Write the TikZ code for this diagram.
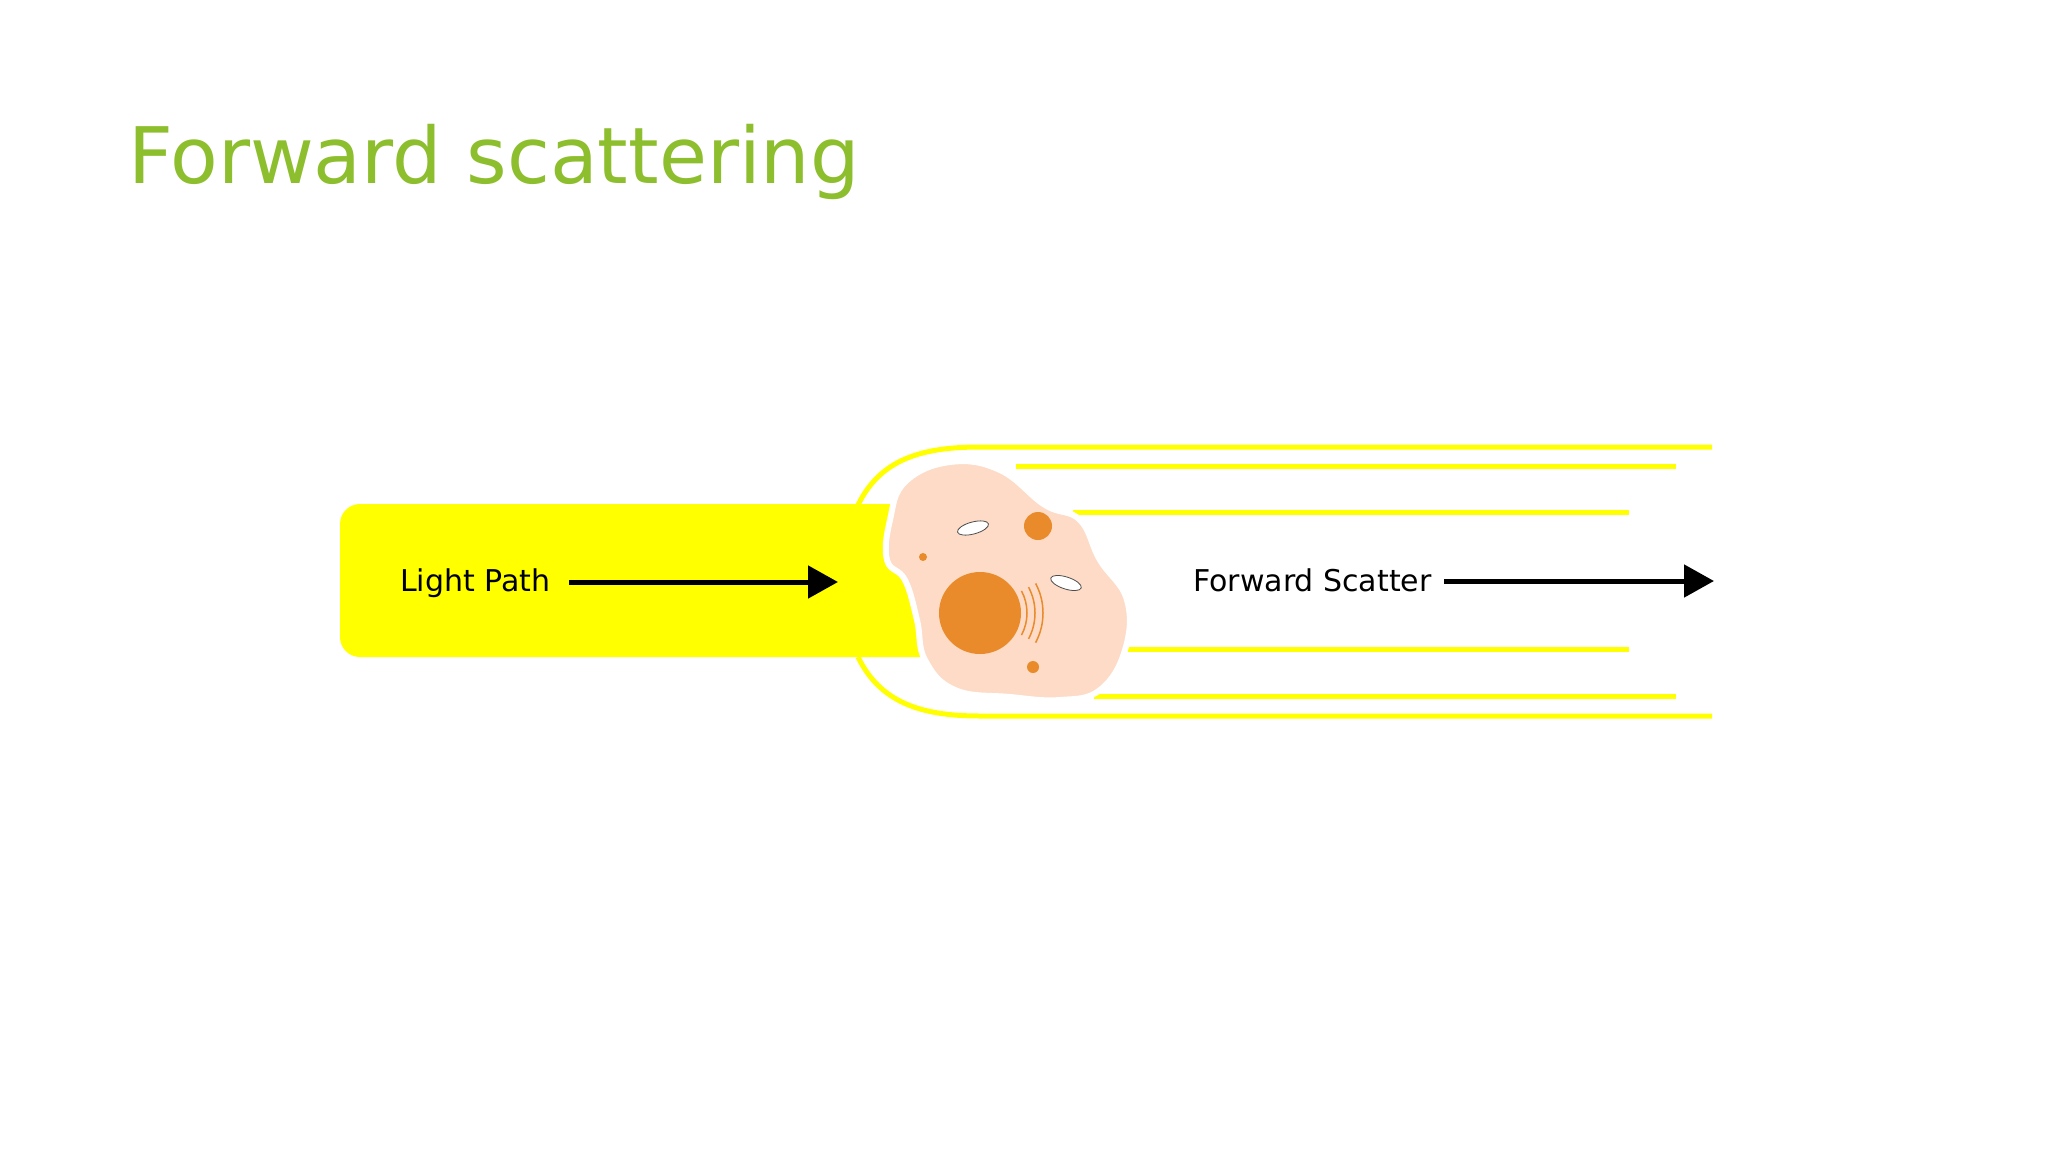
\documentclass[tikz,border=0pt]{standalone}
\usepackage{fontspec}
\usetikzlibrary{arrows.meta}
\setmainfont{DejaVu Sans}
\newfontfamily\titlefont{DejaVu Sans}
\definecolor{ttl}{RGB}{141,190,46}
\definecolor{lyel}{RGB}{255,255,0}
\definecolor{cellc}{RGB}{253,219,198}
\definecolor{orgc}{RGB}{233,139,42}
\begin{document}
\begin{tikzpicture}[x=1pt,y=-1pt,
  beam/.style={lyel,line width=5pt},
  arr/.style={line width=5pt,-{Triangle[length=30pt,width=32pt]}},
  lbl/.style={font=\fontsize{30}{36}\selectfont,inner sep=0pt}]
\useasboundingbox (0,0) rectangle (2048,1152);
\node[anchor=base west,inner sep=0pt,text=ttl,font=\titlefont\fontsize{78}{90}\selectfont] (title) at (128,183) {Forward scattering};
% beams
\draw[beam] (858,505) .. controls (880,460) and (920,447) .. (980,447) -- (1712,447);
\draw[beam] (858,657) .. controls (880,702) and (920,716) .. (980,716) -- (1712,716);
\draw[beam] (1016,466) -- (1676,466);
\draw[beam] (1073,512) -- (1629,512);
\draw[beam] (1123,649) -- (1629,649);
\draw[beam] (1094,696) -- (1676,696);
% light path box
\fill[lyel,rounded corners=20pt] (340,504) -- (920,504) [sharp corners]-- (920,657) [rounded corners=20pt]-- (340,657) -- cycle;
\fill[lyel] (880,504) rectangle (920,657);
% cell
\draw[white,line width=6pt,fill=cellc] plot[smooth cycle,tension=0.7] coordinates {(890,520) (905,482) (950,462) (1000,470) (1045,505) (1080,520) (1100,560) (1127,600) (1125,650) (1100,690) (1060,700) (1010,697) (955,690) (925,660) (917,620) (905,580) (887,560)};
\fill[orgc] (980,613) circle (41);
\fill[orgc] (1038,526) circle (14);
\fill[orgc] (923,557) circle (4);
\fill[orgc] (1033,667) circle (6);
\draw[black!70,line width=0.8pt,fill=white,rotate around={15:(973,528)}] (973,528) ellipse (16 and 6);
\draw[black!70,line width=0.8pt,fill=white,rotate around={-18:(1066,583)}] (1066,583) ellipse (16 and 6);
\foreach \r in {47,55,63}
  \draw[orgc,line width=1.5pt] (980,613) ++(-28:\r) arc[start angle=-28,end angle=28,radius=\r];
% labels and arrows
\node[lbl,anchor=west] (lp) at (400,583) {Light Path};
\coordinate (lpa) at (569,582);
\coordinate (lpb) at (838,582);
\draw[arr] (lpa) -- (lpb);
\node[lbl,anchor=west] (fs) at (1193,580) {Forward Scatter};
\coordinate (fsa) at (1444,581);
\coordinate (fsb) at (1714,581);
\draw[arr] (fsa) -- (fsb);
\end{tikzpicture}
\end{document}
